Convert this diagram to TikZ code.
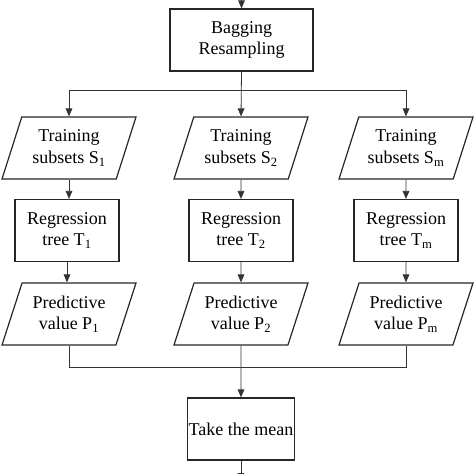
\documentclass[tikz,border=0pt]{standalone}
\usepackage{fontspec}
\setmainfont{Liberation Serif}
\usetikzlibrary{arrows.meta,shapes.geometric}

\tikzset{
    procbox/.style={draw=black!85, line width=0.9pt, rectangle, minimum width=104*0.75pt,
        minimum height=62*0.75pt, align=center, inner sep=1pt,
        font=\fontsize{13.5}{16}\selectfont},
    databox/.style={draw=black!85, line width=0.9pt, trapezium, trapezium left angle=63,
        trapezium right angle=117, trapezium stretches body, minimum width=134*0.75pt,
        minimum height=62*0.75pt, align=center, inner sep=1pt,
        font=\fontsize{13.5}{16}\selectfont},
    arr/.style={draw=black!80, line width=0.6pt, -{Triangle[length=6pt,width=5pt]}},
    link/.style={draw=black!80, line width=0.6pt}
}

\begin{document}
\begin{tikzpicture}[x=0.75pt, y=-0.75pt]
        \useasboundingbox (0,0) rectangle (474,474);

        % Remuestreo
        \node[procbox, minimum width=143*0.75pt] (bag) at (241.5,40) {Bagging\\Resampling};
        \coordinate (in) at (241.5,-12);
        \draw[arr] (in) -- (bag.north);

        % Subconjuntos de entrenamiento
        \node[databox] (s1) at (69,148) {Training\\subsets S\textsubscript{1}};
        \node[databox] (s2) at (241,148) {Training\\subsets S\textsubscript{2}};
        \node[databox] (s3) at (406,148) {Training\\subsets S\textsubscript{m}};

        \coordinate (split) at (241,90);
        \draw[arr] (bag.south) -- (s2.north);
        \draw[arr] (split) -| (s1.north);
        \draw[arr] (split) -| (s3.north);

        % Arboles de regresion
        \node[procbox] (t1) at (67,230.5) {Regression\\tree T\textsubscript{1}};
        \node[procbox] (t2) at (241,230.5) {Regression\\tree T\textsubscript{2}};
        \node[procbox] (t3) at (406,230.5) {Regression\\tree T\textsubscript{m}};

        \draw[arr] (s1.south) -- (s1.south |- t1.north);
        \draw[arr] (s2.south) -- (t2.north);
        \draw[arr] (s3.south) -- (t3.north);

        % Valores predichos
        \node[databox] (p1) at (69,314) {Predictive\\value P\textsubscript{1}};
        \node[databox] (p2) at (241,314) {Predictive\\value P\textsubscript{2}};
        \node[databox] (p3) at (406,314) {Predictive\\value P\textsubscript{m}};

        \draw[arr] (t1.south) -- (t1.south |- p1.north);
        \draw[arr] (t2.south) -- (p2.north);
        \draw[arr] (t3.south) -- (p3.north);

        % Promedio
        \node[procbox] (mean) at (241,429) {Take the mean};
        \coordinate (merge) at (241,367);
        \coordinate (out) at (241,481);

        \draw[link] (p1.south) |- (merge);
        \draw[link] (p3.south) |- (merge);
        \draw[arr] (p2.south) -- (mean.north);
        \draw[arr] (mean.south) -- (out);
    \end{tikzpicture}
\end{document}
